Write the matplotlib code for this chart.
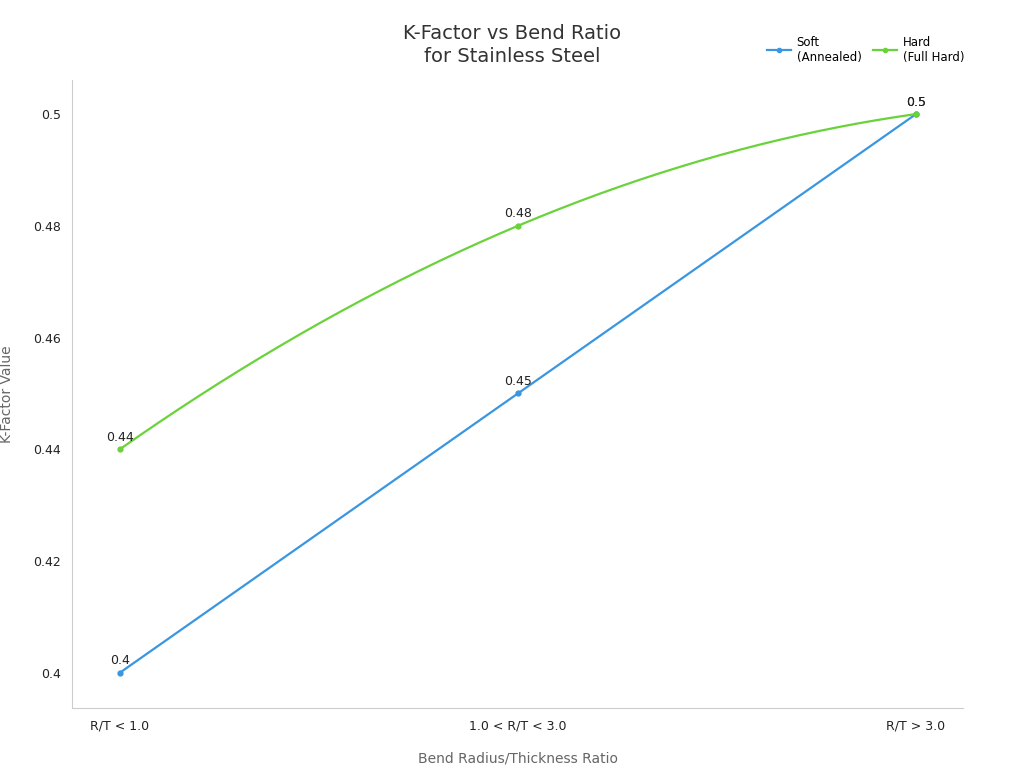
import matplotlib
matplotlib.use("Agg")
import matplotlib.pyplot as plt
import numpy as np

categories = ["R/T < 1.0", "1.0 < R/T < 3.0", "R/T > 3.0"]
soft = [0.40, 0.45, 0.50]
hard = [0.44, 0.48, 0.50]

fig = plt.figure(figsize=(10.24, 7.68), dpi=100)
ax = fig.add_axes([72/1024, 1-708/768, (963-72)/1024, (708-80)/768])

x = np.arange(len(categories))
def smooth(y):
    c = np.polyfit(x, y, 2)
    xs = np.linspace(0, len(x)-1, 200)
    return xs, np.polyval(c, xs)

blue, green = "#3a96e0", "#6ad23a"
for ys, col, lab in [(soft, blue, "Soft\n(Annealed)"), (hard, green, "Hard\n(Full Hard)")]:
    xs, yy = smooth(ys)
    ax.plot(xs, yy, color=col, lw=1.6)
    ax.plot(x, ys, 'o', color=col, ms=3.5)
    ax.plot([], [], '-o', color=col, ms=3, lw=1.6, label=lab)
    for xi, yi in zip(x, ys):
        ax.annotate(f"{yi:g}", (xi, yi), xytext=(0, 4), textcoords="offset points",
                    ha="center", va="bottom", fontsize=9, color="#222222")

ax.set_xlim(-0.12, 2.118)
ax.set_ylim(0.3937, 0.5061)
ax.set_xticks(x)
ax.set_xticklabels(categories, fontsize=9, color="#222222")
ax.set_yticks([0.4, 0.42, 0.44, 0.46, 0.48, 0.5])
ax.set_yticklabels(["0.4", "0.42", "0.44", "0.46", "0.48", "0.5"], fontsize=9, color="#222222")
ax.tick_params(length=0, pad=8)
for s in ["top", "right"]:
    ax.spines[s].set_visible(False)
for s in ["left", "bottom"]:
    ax.spines[s].set_color("#cccccc")
ax.set_xlabel("Bend Radius/Thickness Ratio", fontsize=10, color="#666666", labelpad=14)
ax.set_ylabel("K-Factor Value", fontsize=10, color="#666666", labelpad=14)
fig.text(0.5, 1-45/768, "K-Factor vs Bend Ratio\nfor Stainless Steel", ha="center", va="center",
         fontsize=14, color="#333333", linespacing=1.3)
fig.legend(loc="upper right", bbox_to_anchor=(975/1024, 1-25/768), ncol=2, frameon=False,
           fontsize=8.5, handlelength=2, columnspacing=1.0, handletextpad=0.5)
fig.savefig("out.png", dpi=100)
